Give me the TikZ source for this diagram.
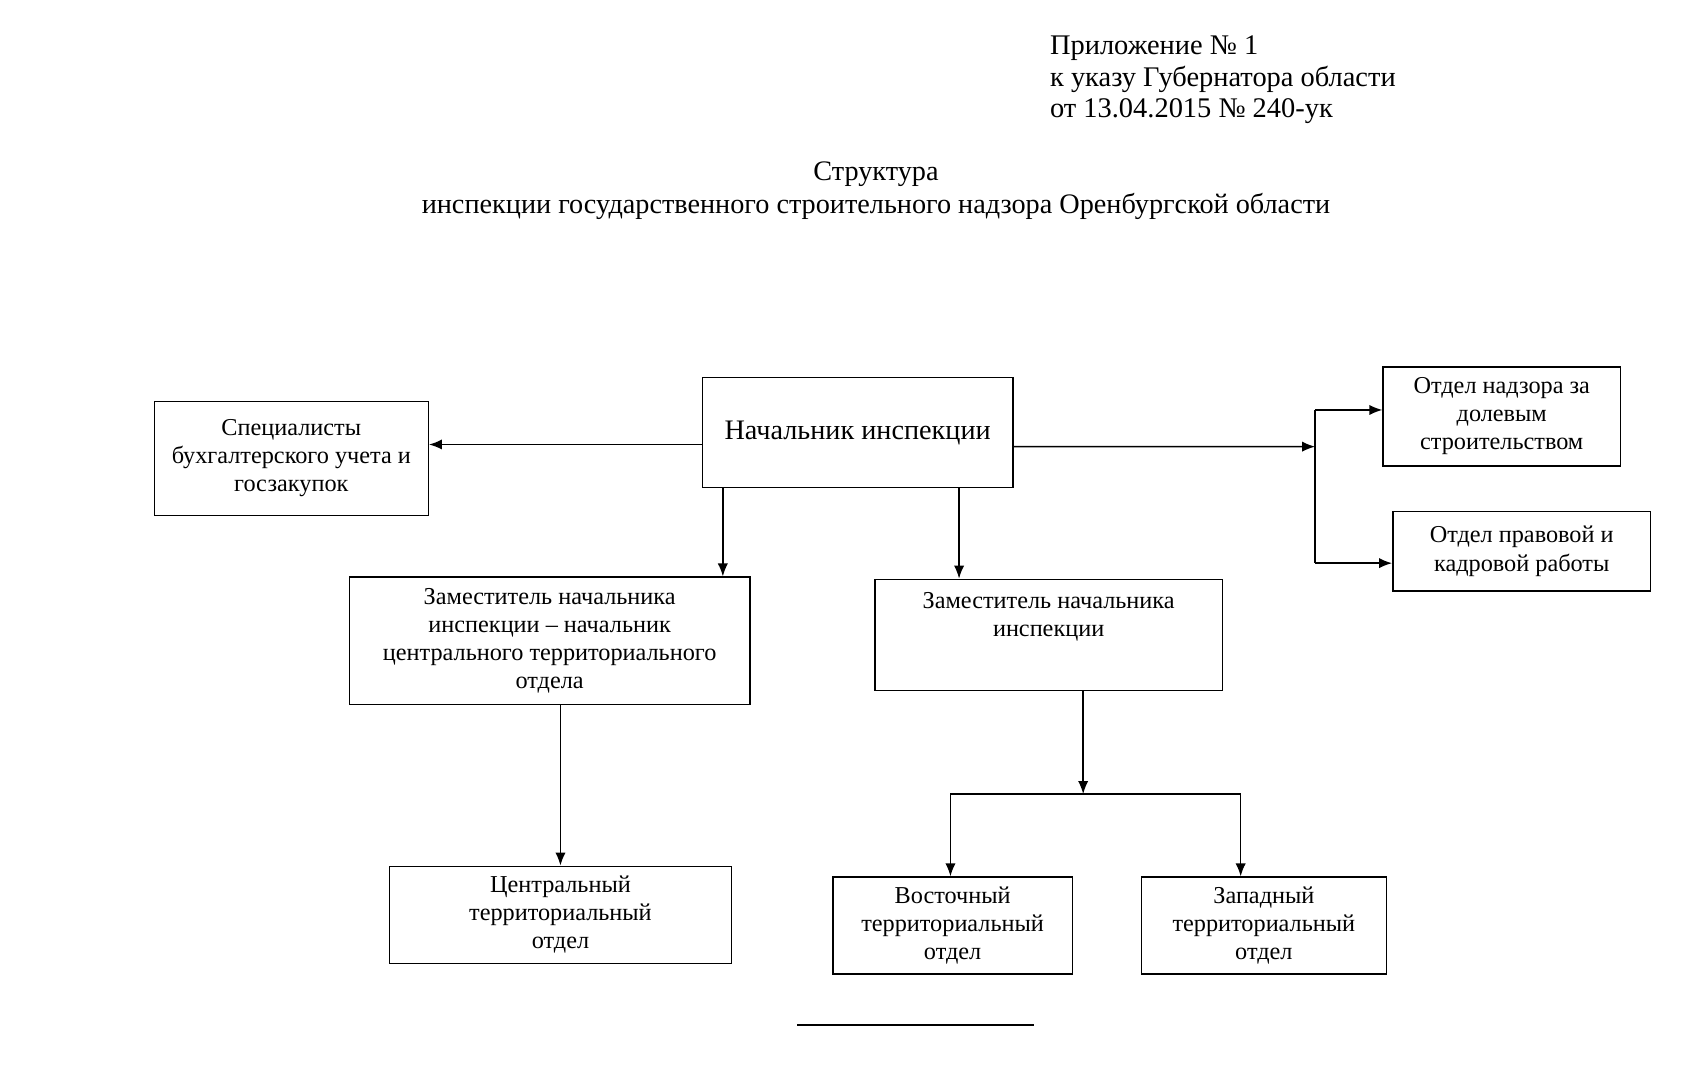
\documentclass[tikz,border=0pt]{standalone}
\usepackage{fontspec}
\setmainfont{Liberation Serif}
\usetikzlibrary{arrows.meta,calc}

\begin{document}
\begin{tikzpicture}[x=0.02cm,y=-0.02cm]
\tikzset{unit/.style={draw=black,line width=0.8pt,align=center,inner sep=2pt,
	font=\fontsize{12.8}{14.8}\selectfont},
	arr/.style={line width=0.8pt,-{Latex[length=2.4mm,width=1.9mm]}},
	link/.style={line width=0.8pt}}
\useasboundingbox (0,0) rectangle (1560,1001);

% header and title
\node[anchor=west,align=left,inner sep=0pt,font=\fontsize{15}{16.6}\selectfont] (appx) at (973,74) {Приложение № 1\\к указу Губернатора области\\от 13.04.2015 № 240-ук};
\node[align=center,font=\fontsize{14.9}{17.6}\selectfont] (title) at (812,177) {Структура\\инспекции государственного строительного надзора Оренбургской области};

% units
\node[unit,minimum width=5.76cm,minimum height=2.04cm,font=\fontsize{14.9}{16}\selectfont] (boss) at (795,401) {Начальник инспекции};
\node[unit,minimum width=5.08cm,minimum height=2.12cm] (spec) at (270,425) {Специалисты\\бухгалтерского учета и\\госзакупок};
\node[unit,minimum width=4.4cm,minimum height=1.84cm] (nadzor) at (1392,386) {Отдел надзора за\\долевым\\строительством};
\node[unit,minimum width=4.78cm,minimum height=1.48cm] (pravo) at (1410.5,511) {Отдел правовой и\\кадровой работы};
\node[unit,minimum width=7.42cm,minimum height=2.36cm] (zam1) at (509.5,594) {Заместитель начальника\\инспекции – начальник\\центрального территориального\\отдела};
\node[unit,minimum width=6.44cm,minimum height=2.06cm,text depth=22pt] (zam2) at (972,588.5) {Заместитель начальника\\инспекции};
\node[unit,minimum width=6.34cm,minimum height=1.8cm] (central) at (519.5,848) {Центральный\\территориальный\\отдел};
\node[unit,minimum width=4.44cm,minimum height=1.8cm] (vost) at (883,858) {Восточный\\территориальный\\отдел};
\node[unit,minimum width=4.54cm,minimum height=1.8cm] (zapad) at (1171.5,858) {Западный\\территориальный\\отдел};

% branch points
\coordinate (split) at (1219,414);
\coordinate (rtop) at (1219,380);
\coordinate (rbot) at (1219,522);
\coordinate (fork) at (1004,736);
\coordinate (fl) at (881,736);
\coordinate (fr) at (1150,736);

% connectors
\draw[arr] ([yshift=-0.22cm]boss.west) -- ([yshift=-0.22cm]boss.west -| spec.east);
\draw[arr] ([yshift=-0.26cm]boss.east) -- (split);
\draw[link] (rtop) -- (rbot);
\draw[arr] (rtop) -- (rtop -| nadzor.west);
\draw[arr] (rbot) -- (rbot -| pravo.west);
\draw[arr] ([xshift=-2.5cm]boss.south) -- ([xshift=-2.5cm]boss.south |- zam1.north);
\draw[arr] ([xshift=1.88cm]boss.south) -- ([xshift=1.88cm]boss.south |- zam2.north);
\draw[arr] (zam1.south -| central.north) -- (central.north);
\draw[arr] (zam2.south -| fork) -- (fork);
\draw[link] (fl) -- (fr);
\draw[arr] (fl) -- (fl |- vost.north);
\draw[arr] (fr) -- (fr |- zapad.north);

% closing rule
\draw[line width=0.8pt] (739,950) -- (958,950);
\end{tikzpicture}
\end{document}
